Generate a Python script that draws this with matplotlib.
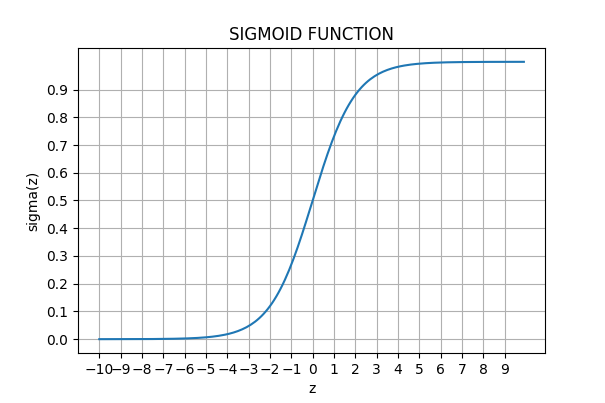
import numpy as np
import matplotlib
matplotlib.use('Agg')
import matplotlib.pyplot as plt

# z values and tick positions
z = np.arange(-10, 10, 0.1)
x_ticks = list(range(-10, 10))
y_ticks = [0.0, 0.1, 0.2, 0.3, 0.4, 0.5, 0.6, 0.7, 0.8, 0.9]

# the plotted function itself
sigma = 1 / (1 + np.exp(-z))

fig = plt.figure(figsize=(6.05, 4.03), dpi=100)
ax = fig.add_axes([0.129, 0.124, 0.772, 0.757])
ax.plot(z, sigma)
ax.set_xticks(x_ticks)
ax.set_yticks(y_ticks)
ax.grid(True)
ax.set_title('SIGMOID FUNCTION')
ax.set_xlabel('z')
ax.set_ylabel('sigma(z)')

fig.savefig('out.png', dpi=100)
